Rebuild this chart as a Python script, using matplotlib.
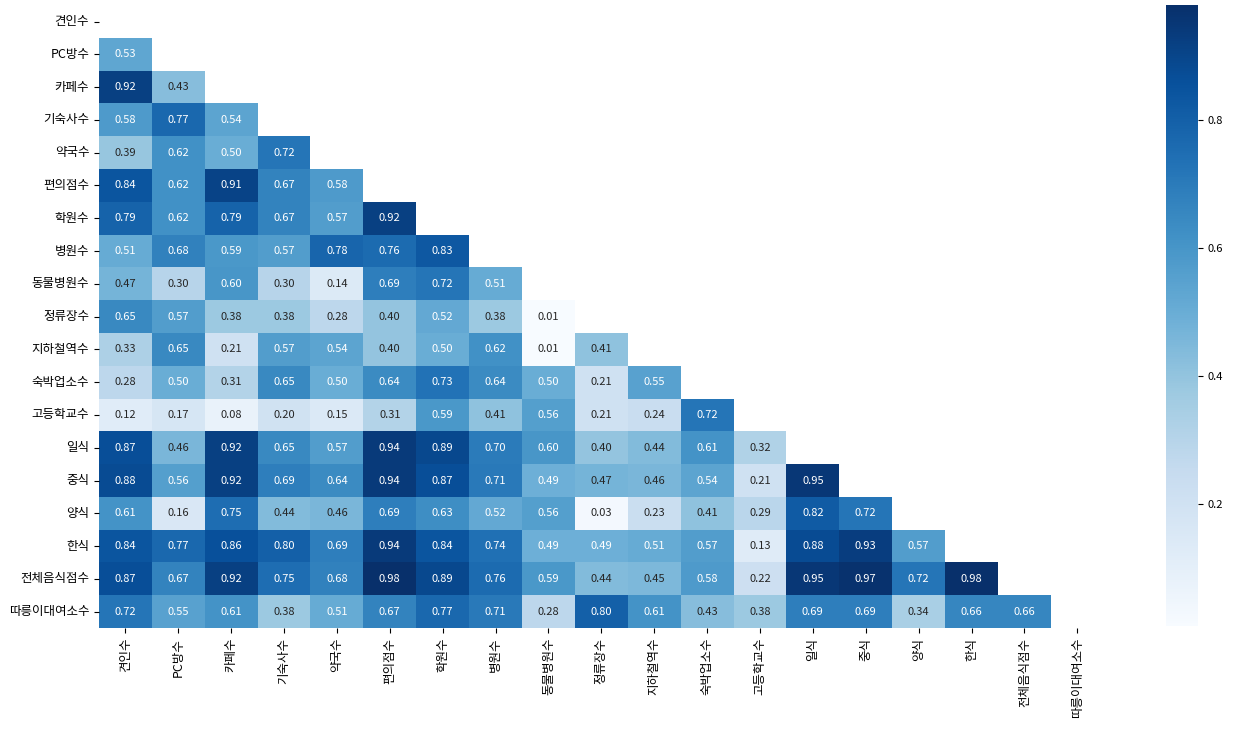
import numpy as np
import matplotlib
matplotlib.use("Agg")
import matplotlib.pyplot as plt
import seaborn as sns

plt.rcParams['font.family'] = ['Noto Sans CJK KR', 'DejaVu Sans']
plt.rcParams['axes.unicode_minus'] = False

labels = ['견인수', 'PC방수', '카페수', '기숙사수', '약국수', '편의점수', '학원수', '병원수',
          '동물병원수', '정류장수', '지하철역수', '숙박업소수', '고등학교수', '일식', '중식',
          '양식', '한식', '전체음식점수', '따릉이대여소수']

# lower-triangle rows (row i has i values)
row_pc = [0.53]
row_cafe = [0.92, 0.43]
row_dorm = [0.58, 0.77, 0.54]
row_pharm = [0.39, 0.62, 0.50, 0.72]
row_conv = [0.84, 0.62, 0.91, 0.67, 0.58]
row_acad = [0.79, 0.62, 0.79, 0.67, 0.57, 0.92]
row_hosp = [0.51, 0.68, 0.59, 0.57, 0.78, 0.76, 0.83]
row_vet = [0.47, 0.30, 0.60, 0.30, 0.14, 0.69, 0.72, 0.51]
row_bus = [0.65, 0.57, 0.38, 0.38, 0.28, 0.40, 0.52, 0.38, 0.01]
row_subway = [0.33, 0.65, 0.21, 0.57, 0.54, 0.40, 0.50, 0.62, 0.01, 0.41]
row_hotel = [0.28, 0.50, 0.31, 0.65, 0.50, 0.64, 0.73, 0.64, 0.50, 0.21, 0.55]
row_school = [0.12, 0.17, 0.08, 0.20, 0.15, 0.31, 0.59, 0.41, 0.56, 0.21, 0.24, 0.72]
row_jp = [0.87, 0.46, 0.92, 0.65, 0.57, 0.94, 0.89, 0.70, 0.60, 0.40, 0.44, 0.61, 0.32]
row_cn = [0.88, 0.56, 0.92, 0.69, 0.64, 0.94, 0.87, 0.71, 0.49, 0.47, 0.46, 0.54, 0.21, 0.95]
row_west = [0.61, 0.16, 0.75, 0.44, 0.46, 0.69, 0.63, 0.52, 0.56, 0.03, 0.23, 0.41, 0.29, 0.82, 0.72]
row_kr = [0.84, 0.77, 0.86, 0.80, 0.69, 0.94, 0.84, 0.74, 0.49, 0.49, 0.51, 0.57, 0.13, 0.88, 0.93, 0.57]
row_all = [0.87, 0.67, 0.92, 0.75, 0.68, 0.98, 0.89, 0.76, 0.59, 0.44, 0.45, 0.58, 0.22, 0.95, 0.97, 0.72, 0.98]
row_bike = [0.72, 0.55, 0.61, 0.38, 0.51, 0.67, 0.77, 0.71, 0.28, 0.80, 0.61, 0.43, 0.38, 0.69, 0.69, 0.34, 0.66, 0.66]

rows = [[], row_pc, row_cafe, row_dorm, row_pharm, row_conv, row_acad, row_hosp, row_vet,
        row_bus, row_subway, row_hotel, row_school, row_jp, row_cn, row_west, row_kr,
        row_all, row_bike]

n = len(labels)
corr = np.eye(n)
for i, r in enumerate(rows):
    for j, v in enumerate(r):
        corr[i, j] = v
        corr[j, i] = v

mask = np.triu(np.ones_like(corr, dtype=bool))

fig = plt.figure(figsize=(12.36, 7.32), dpi=100)
ax = fig.add_axes([0.080, 0.142, 0.813, 0.851])
cax = fig.add_axes([0.943, 0.145, 0.026, 0.848])

sns.heatmap(corr, mask=mask, cmap='Blues', annot=True, fmt='.2f',
            annot_kws={'size': 8}, xticklabels=labels, yticklabels=labels,
            ax=ax, cbar_ax=cax)

ax.set_xticklabels(labels, rotation=90, fontsize=9)
ax.set_yticklabels(labels, rotation=0, fontsize=9)
cax.tick_params(labelsize=8)
for sp in cax.spines.values():
    sp.set_visible(False)

fig.savefig('out.png', dpi=100)
